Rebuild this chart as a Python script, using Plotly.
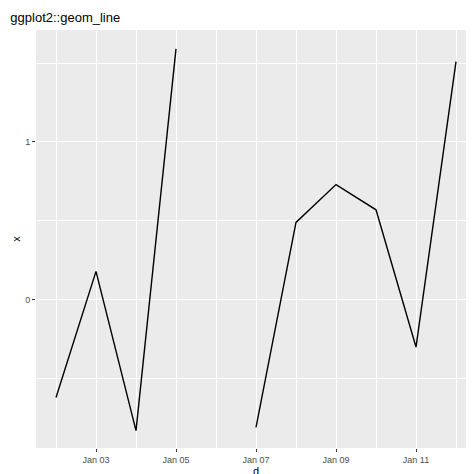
import plotly.graph_objects as go

dates = ["2024-01-02", "2024-01-03", "2024-01-04", "2024-01-05", "2024-01-06", "2024-01-07",
         "2024-01-08", "2024-01-09", "2024-01-10", "2024-01-11", "2024-01-12"]
x_vals = [-0.62, 0.18, -0.83, 1.59, None, -0.81, 0.49, 0.73, 0.57, -0.30, 1.51]

fig = go.Figure(go.Scatter(x=dates, y=x_vals, mode="lines", connectgaps=False,
                           line=dict(color="black", width=1.4)))

day = 86400000
fig.update_layout(
    width=474, height=474,
    paper_bgcolor="white", plot_bgcolor="#EBEBEB",
    margin=dict(l=28, r=6, t=22, b=34, autoexpand=False),
    font=dict(family="Liberation Sans, Arial", size=9, color="#4D4D4D"),
    title=dict(text="ggplot2::geom_line", x=0.005, xanchor="left", y=0.99, yanchor="top",
               font=dict(size=13, color="black")),
    showlegend=False,
)
fig.update_xaxes(
    type="date", range=["2024-01-01 12:00", "2024-01-12 12:00"], automargin=False,
    tick0="2024-01-03", dtick=2 * day, tickformat="%b %d",
    showgrid=True, gridcolor="white", gridwidth=1.2,
    minor=dict(dtick=day, tick0="2024-01-02", showgrid=True, gridcolor="white", gridwidth=0.5),
    ticks="outside", ticklen=3, tickcolor="#333333", zeroline=False,
    tickfont=dict(color="#4D4D4D"),
    title=dict(text="d", font=dict(size=11, color="black"), standoff=2),
)
fig.update_yaxes(
    range=[-0.94, 1.71], tickvals=[0, 1], ticktext=["0", "1"], automargin=False,
    showgrid=True, gridcolor="white", gridwidth=1.2,
    minor=dict(tickvals=[-0.5, 0.5, 1.5], showgrid=True, gridcolor="white", gridwidth=0.5),
    ticks="outside", ticklen=3, tickcolor="#333333", zeroline=False,
    tickfont=dict(color="#4D4D4D"),
    title=dict(text="x", font=dict(size=11, color="black"), standoff=2),
)

fig.write_html("out.html")
